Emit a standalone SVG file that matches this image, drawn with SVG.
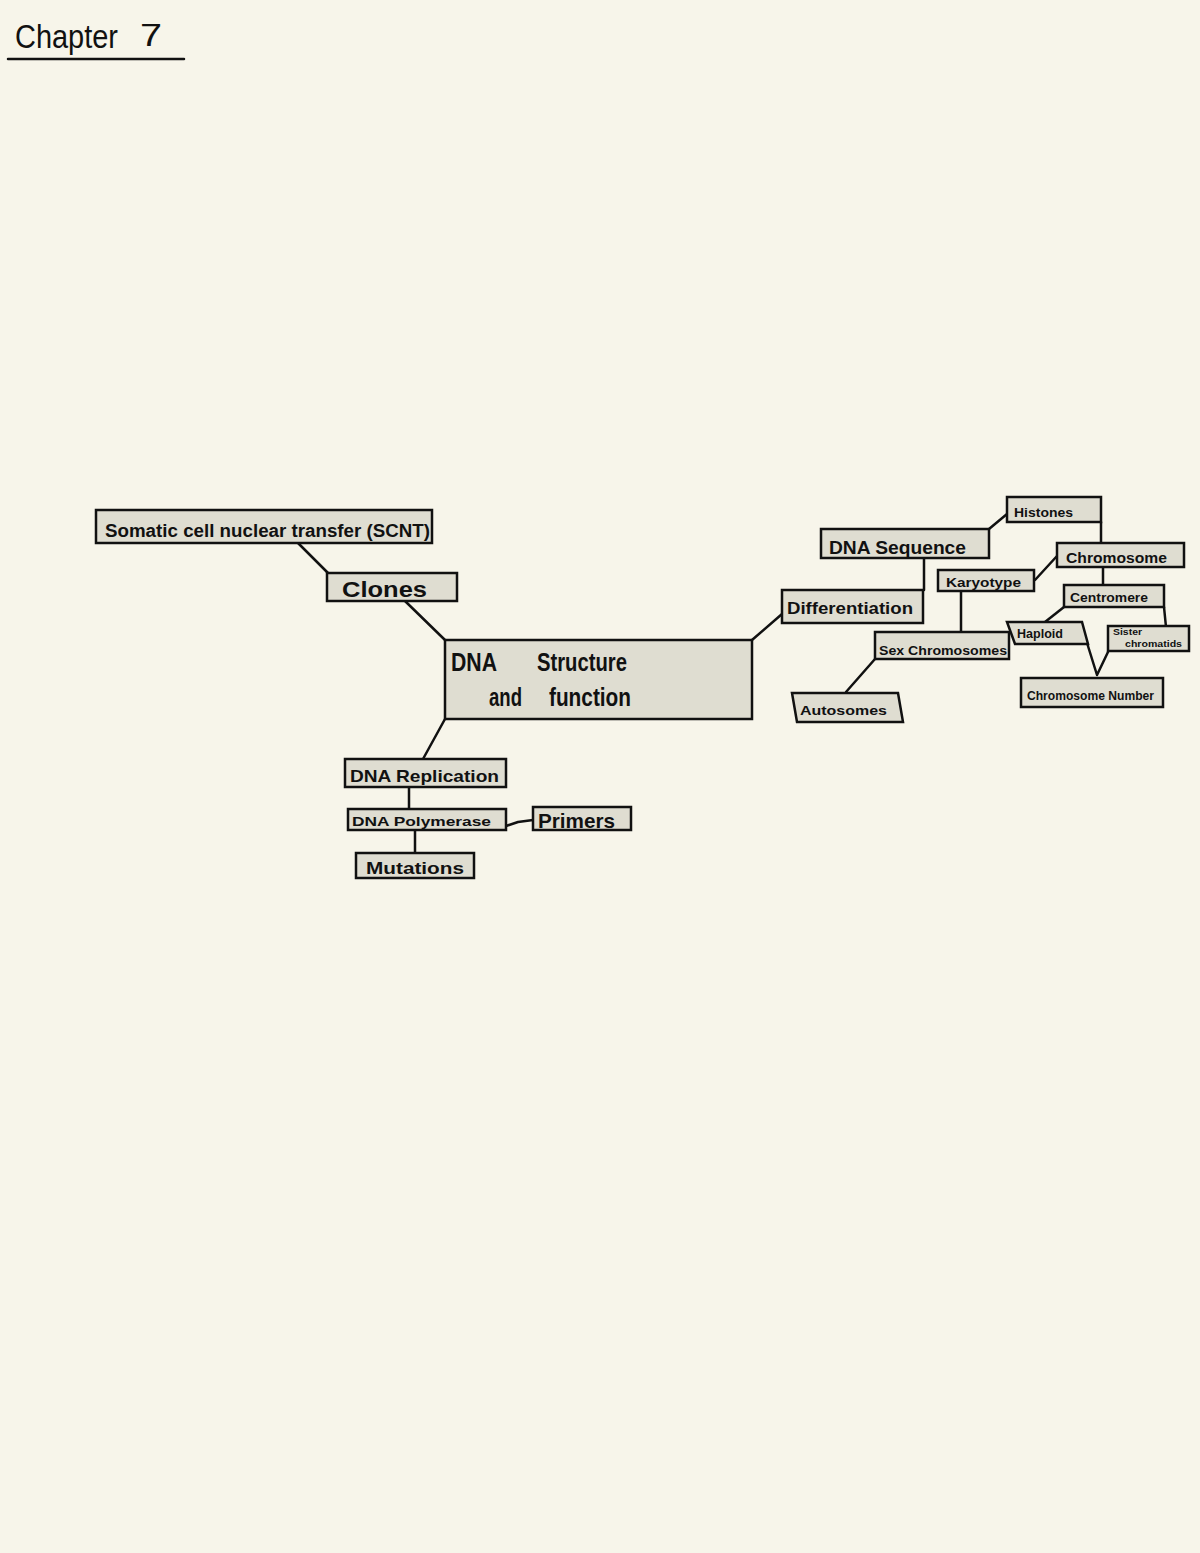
<svg xmlns="http://www.w3.org/2000/svg" width="1200" height="1553" viewBox="0 0 1200 1553">
<style>
.bg{fill:#f7f5ea}
.box{fill:#dfddd1;stroke:#111;stroke-width:2.5;stroke-linejoin:miter}
.ln{fill:none;stroke:#111;stroke-width:2.5;stroke-linecap:round;stroke-linejoin:round}
text{font-family:"Liberation Sans Narrow","Liberation Sans",Arial,sans-serif;font-weight:bold;fill:#111}
.title{font-family:"Liberation Sans Narrow","Liberation Sans",sans-serif;font-weight:normal}
</style>
<rect class="bg" x="0" y="0" width="1200" height="1553"/>
<g id="title">
<text class="title" x="15" y="48" font-size="34" textLength="103" lengthAdjust="spacingAndGlyphs">Chapter</text>
<text class="title" x="140" y="46" font-size="32" textLength="22" lengthAdjust="spacingAndGlyphs">7</text>
<line class="ln" x1="8" y1="59" x2="184" y2="59" stroke-width="2"/>
</g>
<g id="connectors">
<polyline class="ln" points="298,543 328,573"/>
<polyline class="ln" points="405,601 445,640"/>
<polyline class="ln" points="445,719 423,759"/>
<polyline class="ln" points="409,787 409,809"/>
<polyline class="ln" points="506,826 518,822 533,820"/>
<polyline class="ln" points="415,830 415,853"/>
<polyline class="ln" points="752,640 782,614"/>
<polyline class="ln" points="924,590 924,558"/>
<polyline class="ln" points="989,529 1007,514"/>
<polyline class="ln" points="1101,522 1101,543"/>
<polyline class="ln" points="1035,580 1057,556"/>
<polyline class="ln" points="1103,567 1103,585"/>
<polyline class="ln" points="1064,607 1045,622"/>
<polyline class="ln" points="1164,607 1166,627"/>
<polyline class="ln" points="961,591 961,632"/>
<polyline class="ln" points="875,659 846,692"/>
<polyline class="ln" points="1083,630 1097,675 1108,652"/>
</g>
<g id="scnt">
<rect class="box" x="96" y="510" width="336" height="33"/>
<text x="105" y="537" font-size="18" textLength="325" lengthAdjust="spacingAndGlyphs">Somatic cell nuclear transfer (SCNT)</text>
</g>
<g id="clones">
<rect class="box" x="327" y="573" width="130" height="28"/>
<text x="342" y="597" font-size="22" textLength="85" lengthAdjust="spacingAndGlyphs">Clones</text>
</g>
<g id="dna">
<rect class="box" x="445" y="640" width="307" height="79"/>
<text x="451" y="671" font-size="25" textLength="46" lengthAdjust="spacingAndGlyphs">DNA</text>
<text x="537" y="671" font-size="25" textLength="90" lengthAdjust="spacingAndGlyphs">Structure</text>
<text x="489" y="706" font-size="25" textLength="33" lengthAdjust="spacingAndGlyphs">and</text>
<text x="549" y="706" font-size="25" textLength="82" lengthAdjust="spacingAndGlyphs">function</text>
</g>
<g id="replication">
<rect class="box" x="345" y="759" width="161" height="28"/>
<text x="350" y="782" font-size="17" textLength="149" lengthAdjust="spacingAndGlyphs">DNA Replication</text>
</g>
<g id="polymerase">
<rect class="box" x="348" y="809" width="158" height="21"/>
<text x="352" y="826" font-size="13" textLength="139" lengthAdjust="spacingAndGlyphs">DNA Polymerase</text>
</g>
<g id="primers">
<rect class="box" x="533" y="807" width="98" height="23"/>
<text x="538" y="828" font-size="21" textLength="77" lengthAdjust="spacingAndGlyphs">Primers</text>
</g>
<g id="mutations">
<rect class="box" x="356" y="853" width="118" height="25"/>
<text x="366" y="874" font-size="16" textLength="98" lengthAdjust="spacingAndGlyphs">Mutations</text>
</g>
<g id="sequence">
<rect class="box" x="821" y="529" width="168" height="29"/>
<text x="829" y="554" font-size="18" textLength="137" lengthAdjust="spacingAndGlyphs">DNA  Sequence</text>
</g>
<g id="differentiation">
<rect class="box" x="782" y="590" width="141" height="33"/>
<text x="787" y="614" font-size="16" textLength="126" lengthAdjust="spacingAndGlyphs">Differentiation</text>
</g>
<g id="histones">
<rect class="box" x="1007" y="497" width="94" height="25"/>
<text x="1014" y="517" font-size="13" textLength="59" lengthAdjust="spacingAndGlyphs">Histones</text>
</g>
<g id="chromosome">
<rect class="box" x="1057" y="543" width="127" height="24"/>
<text x="1066" y="563" font-size="15" textLength="101" lengthAdjust="spacingAndGlyphs">Chromosome</text>
</g>
<g id="karyotype">
<rect class="box" x="938" y="570" width="96" height="21"/>
<text x="946" y="587" font-size="13" textLength="75" lengthAdjust="spacingAndGlyphs">Karyotype</text>
</g>
<g id="centromere">
<rect class="box" x="1064" y="585" width="100" height="22"/>
<text x="1070" y="602" font-size="13" textLength="78" lengthAdjust="spacingAndGlyphs">Centromere</text>
</g>
<g id="sexchromosomes">
<rect class="box" x="875" y="632" width="134" height="27"/>
<text x="879" y="655" font-size="13" textLength="128" lengthAdjust="spacingAndGlyphs">Sex Chromosomes</text>
</g>
<g id="autosomes">
<polygon class="box" points="792,693 898,693 903,722 797,722"/>
<text x="800" y="715" font-size="13" textLength="87" lengthAdjust="spacingAndGlyphs">Autosomes</text>
</g>
<g id="haploid">
<polygon class="box" points="1007,622 1082,622 1088,644 1015,644"/>
<text x="1017" y="638" font-size="13" textLength="46" lengthAdjust="spacingAndGlyphs">Haploid</text>
</g>
<g id="sisterchromatids">
<rect class="box" x="1108" y="626" width="81" height="25"/>
<text x="1113" y="635" font-size="9" textLength="29" lengthAdjust="spacingAndGlyphs">Sister</text>
<text x="1125" y="647" font-size="9" textLength="57" lengthAdjust="spacingAndGlyphs">chromatids</text>
</g>
<g id="chromosomenumber">
<rect class="box" x="1021" y="678" width="142" height="29"/>
<text x="1027" y="700" font-size="13" textLength="127" lengthAdjust="spacingAndGlyphs">Chromosome  Number</text>
</g>
</svg>
